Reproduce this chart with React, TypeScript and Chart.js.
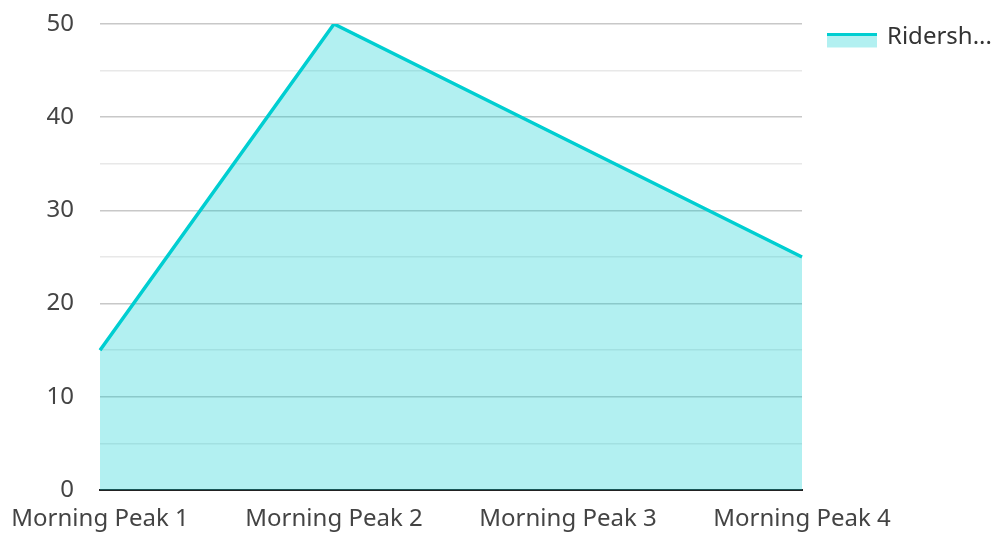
import React, { useEffect, useRef } from "react";
import { Chart, registerables } from "chart.js";

Chart.register(...registerables);

const categories = ["Morning Peak 1", "Morning Peak 2", "Morning Peak 3", "Morning Peak 4"];
const ridership = [15, 50, 37.5, 25];
const seriesLabel = "Ridership";
const legendText = "Ridersh...";

const LINE = "#00CED1";
const FILL = "rgba(0,206,209,0.3)";
const FONT = "'Noto Sans', sans-serif";

const legendPlugin = {
  id: "customLegend",
  afterDraw(chart: any) {
    const ctx = chart.ctx;
    ctx.save();
    const x = 827;
    const y = 33;
    ctx.fillStyle = FILL;
    ctx.fillRect(x, y + 1.5, 50, 13);
    ctx.strokeStyle = LINE;
    ctx.lineWidth = 3;
    ctx.beginPath();
    ctx.moveTo(x, y + 1.5);
    ctx.lineTo(x + 50, y + 1.5);
    ctx.stroke();
    ctx.fillStyle = "#333";
    ctx.font = `24px ${FONT}`;
    ctx.textBaseline = "middle";
    ctx.textAlign = "left";
    ctx.fillText(legendText, 887, 37);
    ctx.restore();
  },
};

export default function App() {
  const ref = useRef<HTMLCanvasElement>(null);
  useEffect(() => {
    if (!ref.current) return;
    const chart = new Chart(ref.current, {
      type: "line",
      data: {
        labels: categories,
        datasets: [
          {
            label: seriesLabel,
            data: ridership,
            borderColor: LINE,
            backgroundColor: FILL,
            borderWidth: 3.5,
            fill: "origin",
            pointRadius: 0,
            tension: 0,
          },
        ],
      },
      options: {
        animation: false,
        responsive: false,
        layout: { padding: { left: 0, top: 24, right: 195, bottom: 0 } },
        plugins: { legend: { display: false }, tooltip: { enabled: false } },
        scales: {
          x: {
            offset: false,
            grid: { display: false, drawTicks: false },
            border: { display: true, color: "#222", width: 2 },
            ticks: { color: "#444", font: { family: FONT, size: 24 }, padding: 15, maxRotation: 0, autoSkip: false },
            afterFit: (s: any) => { s.height = 43; s.paddingLeft = 0; s.paddingRight = 0; },
          },
          y: {
            min: 0,
            max: 50,
            border: { display: false },
            grid: {
              drawTicks: false,
              color: (c: any) => (c.tick && c.tick.value % 10 === 0 ? "#c8c8c8" : "#e8e8e8"),
              lineWidth: 1.5,
            },
            ticks: {
              stepSize: 5,
              color: "#444",
              font: { family: FONT, size: 24 },
              padding: 26,
              callback: (v: any) => (Number(v) % 10 === 0 ? String(v) : ""),
            },
            afterFit: (s: any) => { s.width = 100; s.paddingTop = 0; s.paddingBottom = 0; },
          },
        },
      },
      plugins: [legendPlugin],
    });
    return () => chart.destroy();
  }, []);
  return (
    <div style={{ position: "fixed", left: 0, top: 0, width: 997, height: 533, background: "#fff" }}>
      <canvas ref={ref} width={997} height={533} style={{ width: 997, height: 533 }} />
    </div>
  );
}
